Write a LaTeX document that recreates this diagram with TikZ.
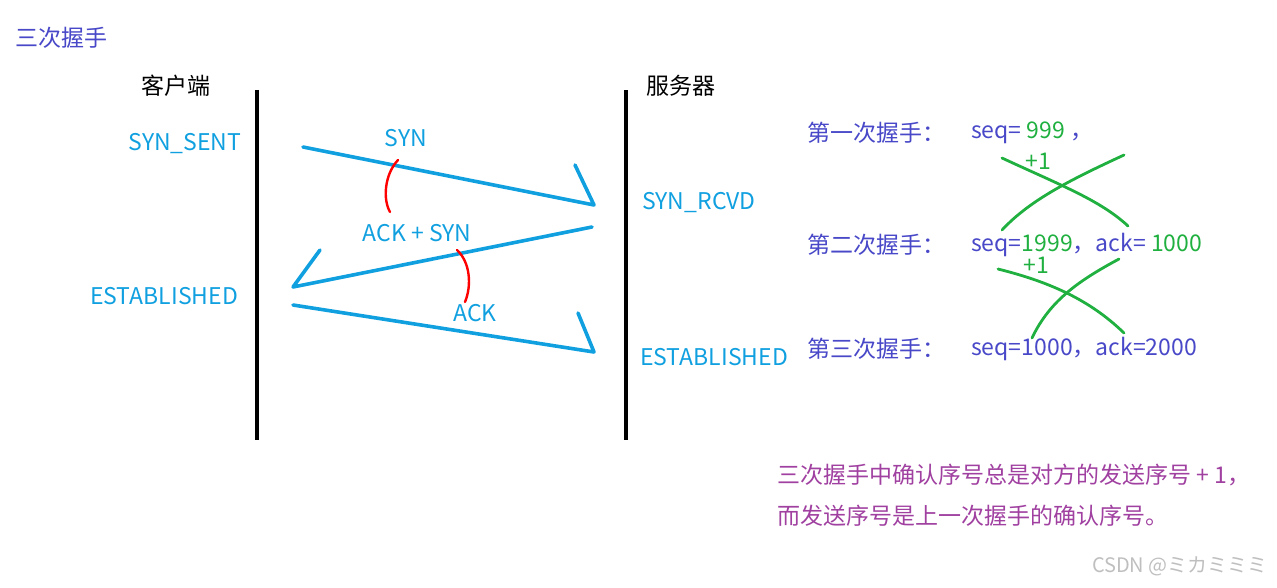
\documentclass[tikz,border=0pt]{standalone}
\usepackage{fontspec}
\setmainfont{Noto Sans CJK SC}
\begin{document}
\definecolor{cy}{HTML}{10A0E0}
\definecolor{ind}{HTML}{4848C8}
\definecolor{gr}{HTML}{20B040}
\definecolor{pu}{HTML}{A040A0}
\begin{tikzpicture}[x=1pt,y=-1pt,
  t/.style={font=\fontsize{23}{26}\selectfont,inner sep=0pt},
  blk/.style={t,text=black},
  cyt/.style={t,text=cy},
  msg/.style={draw=cy,line width=3.6pt,line cap=round,line join=round},
  gx/.style={draw=gr,line width=2.8pt,line cap=round},
  life/.style={draw=black,line width=4.2pt}]
\useasboundingbox (0,0) rectangle (1277,587);
\node[t,text=ind] (title) at (62,38) {三次握手};
\node[blk] (cl) at (176,86) {客户端};
\node[blk] (sv) at (681,86) {服务器};
\coordinate (c1) at (257,90); \coordinate (c2) at (257,440);
\coordinate (s1) at (626,90); \coordinate (s2) at (626,440);
\draw[life] (c1) -- (c2);
\draw[life] (s1) -- (s2);
\node[cyt] (ss) at (185,144) {SYN\_SENT};
\node[cyt] (syn) at (406,138) {SYN};
\node[cyt] (sr) at (699,203) {SYN\_RCVD};
\node[cyt] (as) at (417,233) {ACK + SYN};
\node[cyt] (e1) at (164,296) {ESTABLISHED};
\node[cyt] (ack) at (475,313) {ACK};
\node[cyt] (e2) at (714,357) {ESTABLISHED};
\coordinate (a0) at (303,147); \coordinate (a1) at (594,205); \coordinate (a2) at (575,165);
\draw[msg] (a0) -- (a1) -- (a2);
\coordinate (b0) at (592,227); \coordinate (b1) at (293,287); \coordinate (b2) at (320,250);
\draw[msg] (b0) -- (b1) -- (b2);
\coordinate (d0) at (293,305); \coordinate (d1) at (594,352); \coordinate (d2) at (578,313);
\draw[msg] (d0) -- (d1) -- (d2);
\coordinate (r1) at (398,160); \coordinate (r2) at (390,212);
\draw[red,line width=2.4pt,line cap=round] (r1) .. controls (384,175) and (383,200) .. (r2);
\coordinate (r3) at (457,250); \coordinate (r4) at (465,302);
\draw[red,line width=2.4pt,line cap=round] (r3) .. controls (470,262) and (472,285) .. (r4);
\node[t,text=ind,anchor=west] (h1) at (807,133) {第一次握手：};
\node[t,text=ind,anchor=west] (h2) at (807,245) {第二次握手：};
\node[t,text=ind,anchor=west] (h3) at (807,349) {第三次握手：};
\node[t,anchor=west] (q1) at (971,133) {\textcolor{ind}{seq=} \textcolor{gr}{999} \textcolor{ind}{，}};
\node[t,anchor=west] (q2) at (971,245) {\textcolor{ind}{seq=}\textcolor{gr}{1999}\textcolor{ind}{，ack=} \textcolor{gr}{1000}};
\node[t,anchor=west,text=ind] (q3) at (971,349) {seq=1000，ack=2000};
\node[t,text=gr] (p1) at (1038,161) {+1};
\node[t,text=gr] (p2) at (1036,265) {+1};
\coordinate (x1) at (1002,158); \coordinate (x2) at (1128,226);
\coordinate (x3) at (1124,155); \coordinate (x4) at (1002,230);
\draw[gx] (x1) .. controls (1060,185) and (1100,200) .. (x2);
\draw[gx] (x3) .. controls (1070,180) and (1030,200) .. (x4);
\coordinate (y1) at (998,269); \coordinate (y2) at (1124,333);
\coordinate (y3) at (1119,259); \coordinate (y4) at (1032,338);
\draw[gx] (y1) .. controls (1050,282) and (1090,300) .. (y2);
\draw[gx] (y3) .. controls (1080,280) and (1050,300) .. (y4);
\node[t,text=pu,anchor=west] (n1) at (777,475) {三次握手中确认序号总是对方的发送序号 + 1，};
\node[t,text=pu,anchor=west] (n2) at (777,516) {而发送序号是上一次握手的确认序号。};
\node[font=\fontsize{20}{22}\selectfont,text=black!25,anchor=east,inner sep=0pt] (wm) at (1268,566) {CSDN @ミカミミミ};
\end{tikzpicture}
\end{document}
